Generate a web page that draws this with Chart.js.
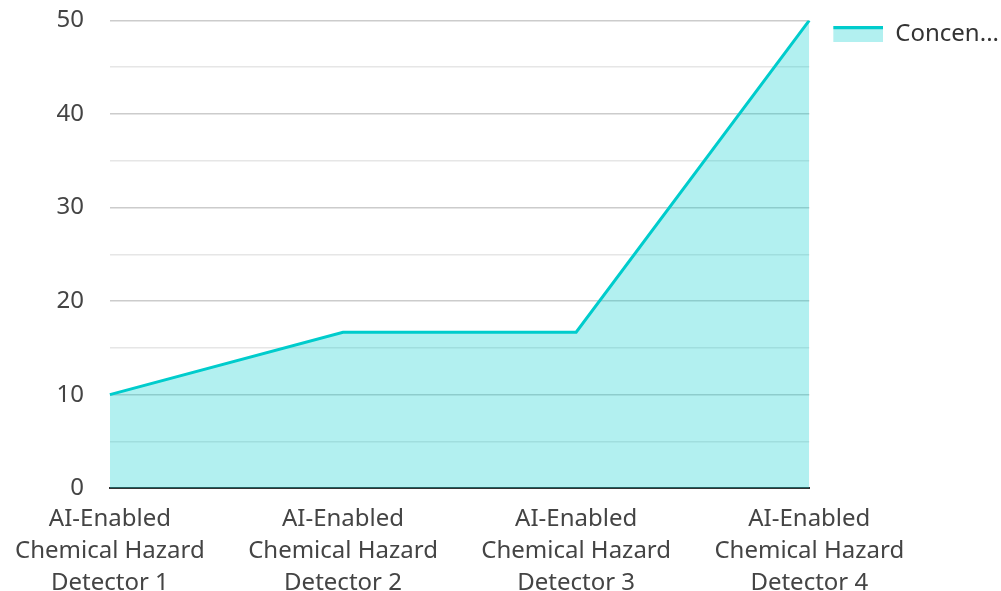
<!DOCTYPE html>
<html>
<head>
<meta charset="utf-8">
<script src="https://cdn.jsdelivr.net/npm/chart.js@4"></script>
<style>
  html, body { margin: 0; padding: 0; background: #fff; overflow: hidden; }
  canvas { display: block; }
</style>
</head>
<body>
<canvas id="chart" width="1001" height="614"></canvas>
<script>
const categories = [
  ['AI-Enabled', 'Chemical Hazard', 'Detector 1'],
  ['AI-Enabled', 'Chemical Hazard', 'Detector 2'],
  ['AI-Enabled', 'Chemical Hazard', 'Detector 3'],
  ['AI-Enabled', 'Chemical Hazard', 'Detector 4'],
];
const concentration = [10, 16.67, 16.67, 50];
const seriesLabel = 'Concentration';
const yMax = 50;

const teal = 'rgb(0, 204, 204)';
const tealFill = 'rgba(0, 204, 204, 0.3)';

Chart.defaults.font.family = '"Noto Sans", "Open Sans", sans-serif';
Chart.defaults.color = '#444';

// legend swatch: line on top of a filled block, with a blank margin on the left
const swatchGap = 24;
function makeSwatch() {
  const c = document.createElement('canvas');
  c.width = 50 + swatchGap;
  c.height = 16;
  const g = c.getContext('2d');
  g.fillStyle = tealFill;
  g.fillRect(swatchGap, 2, 50, 14);
  g.fillStyle = teal;
  g.fillRect(swatchGap, 0, 50, 3);
  return c;
}
const swatch = makeSwatch();

new Chart(document.getElementById('chart'), {
  type: 'line',
  data: {
    labels: categories,
    datasets: [{
      label: seriesLabel,
      data: concentration,
      borderColor: teal,
      backgroundColor: tealFill,
      borderWidth: 3,
      fill: 'origin',
      pointRadius: 0,
      tension: 0,
    }],
  },
  options: {
    responsive: false,
    animation: false,
    layout: { padding: { top: -1, right: -8, left: 6, bottom: 0 } },
    plugins: {
      tooltip: { enabled: false },
      legend: {
        position: 'right',
        align: 'start',
        title: { display: true, text: '', font: { size: 1 }, padding: { top: 22, bottom: 0 } },
        labels: {
          usePointStyle: true,
          pointStyleWidth: 50 + swatchGap,
          boxHeight: 24,
          padding: 0,
          font: { size: 24 },
          color: '#333',
          generateLabels(chart) {
            const items = Chart.defaults.plugins.legend.labels.generateLabels(chart);
            items.forEach(it => {
              it.text = it.text.slice(0, 6) + '...';
              it.pointStyle = swatch;
            });
            return items;
          },
        },
      },
    },
    scales: {
      x: {
        offset: false,
        grid: { display: false, drawTicks: false },
        border: { display: true, color: '#333', width: 2 },
        ticks: { font: { size: 24, lineHeight: 1.33 }, color: '#444', padding: 15, maxRotation: 0, autoSkip: false },
      },
      y: {
        min: 0,
        max: yMax,
        grid: {
          drawTicks: true,
          tickLength: 20,
          tickColor: 'rgba(0,0,0,0)',
          color: ctx => (ctx.tick.value % 10 === 0 ? '#cccccc' : '#e6e6e6'),
          lineWidth: 1.5,
        },
        border: { display: false },
        ticks: {
          stepSize: 5,
          padding: 6,
          font: { size: 24 },
          color: '#444',
          callback: v => (v % 10 === 0 ? v : ''),
        },
      },
    },
  },
});
</script>
</body>
</html>
